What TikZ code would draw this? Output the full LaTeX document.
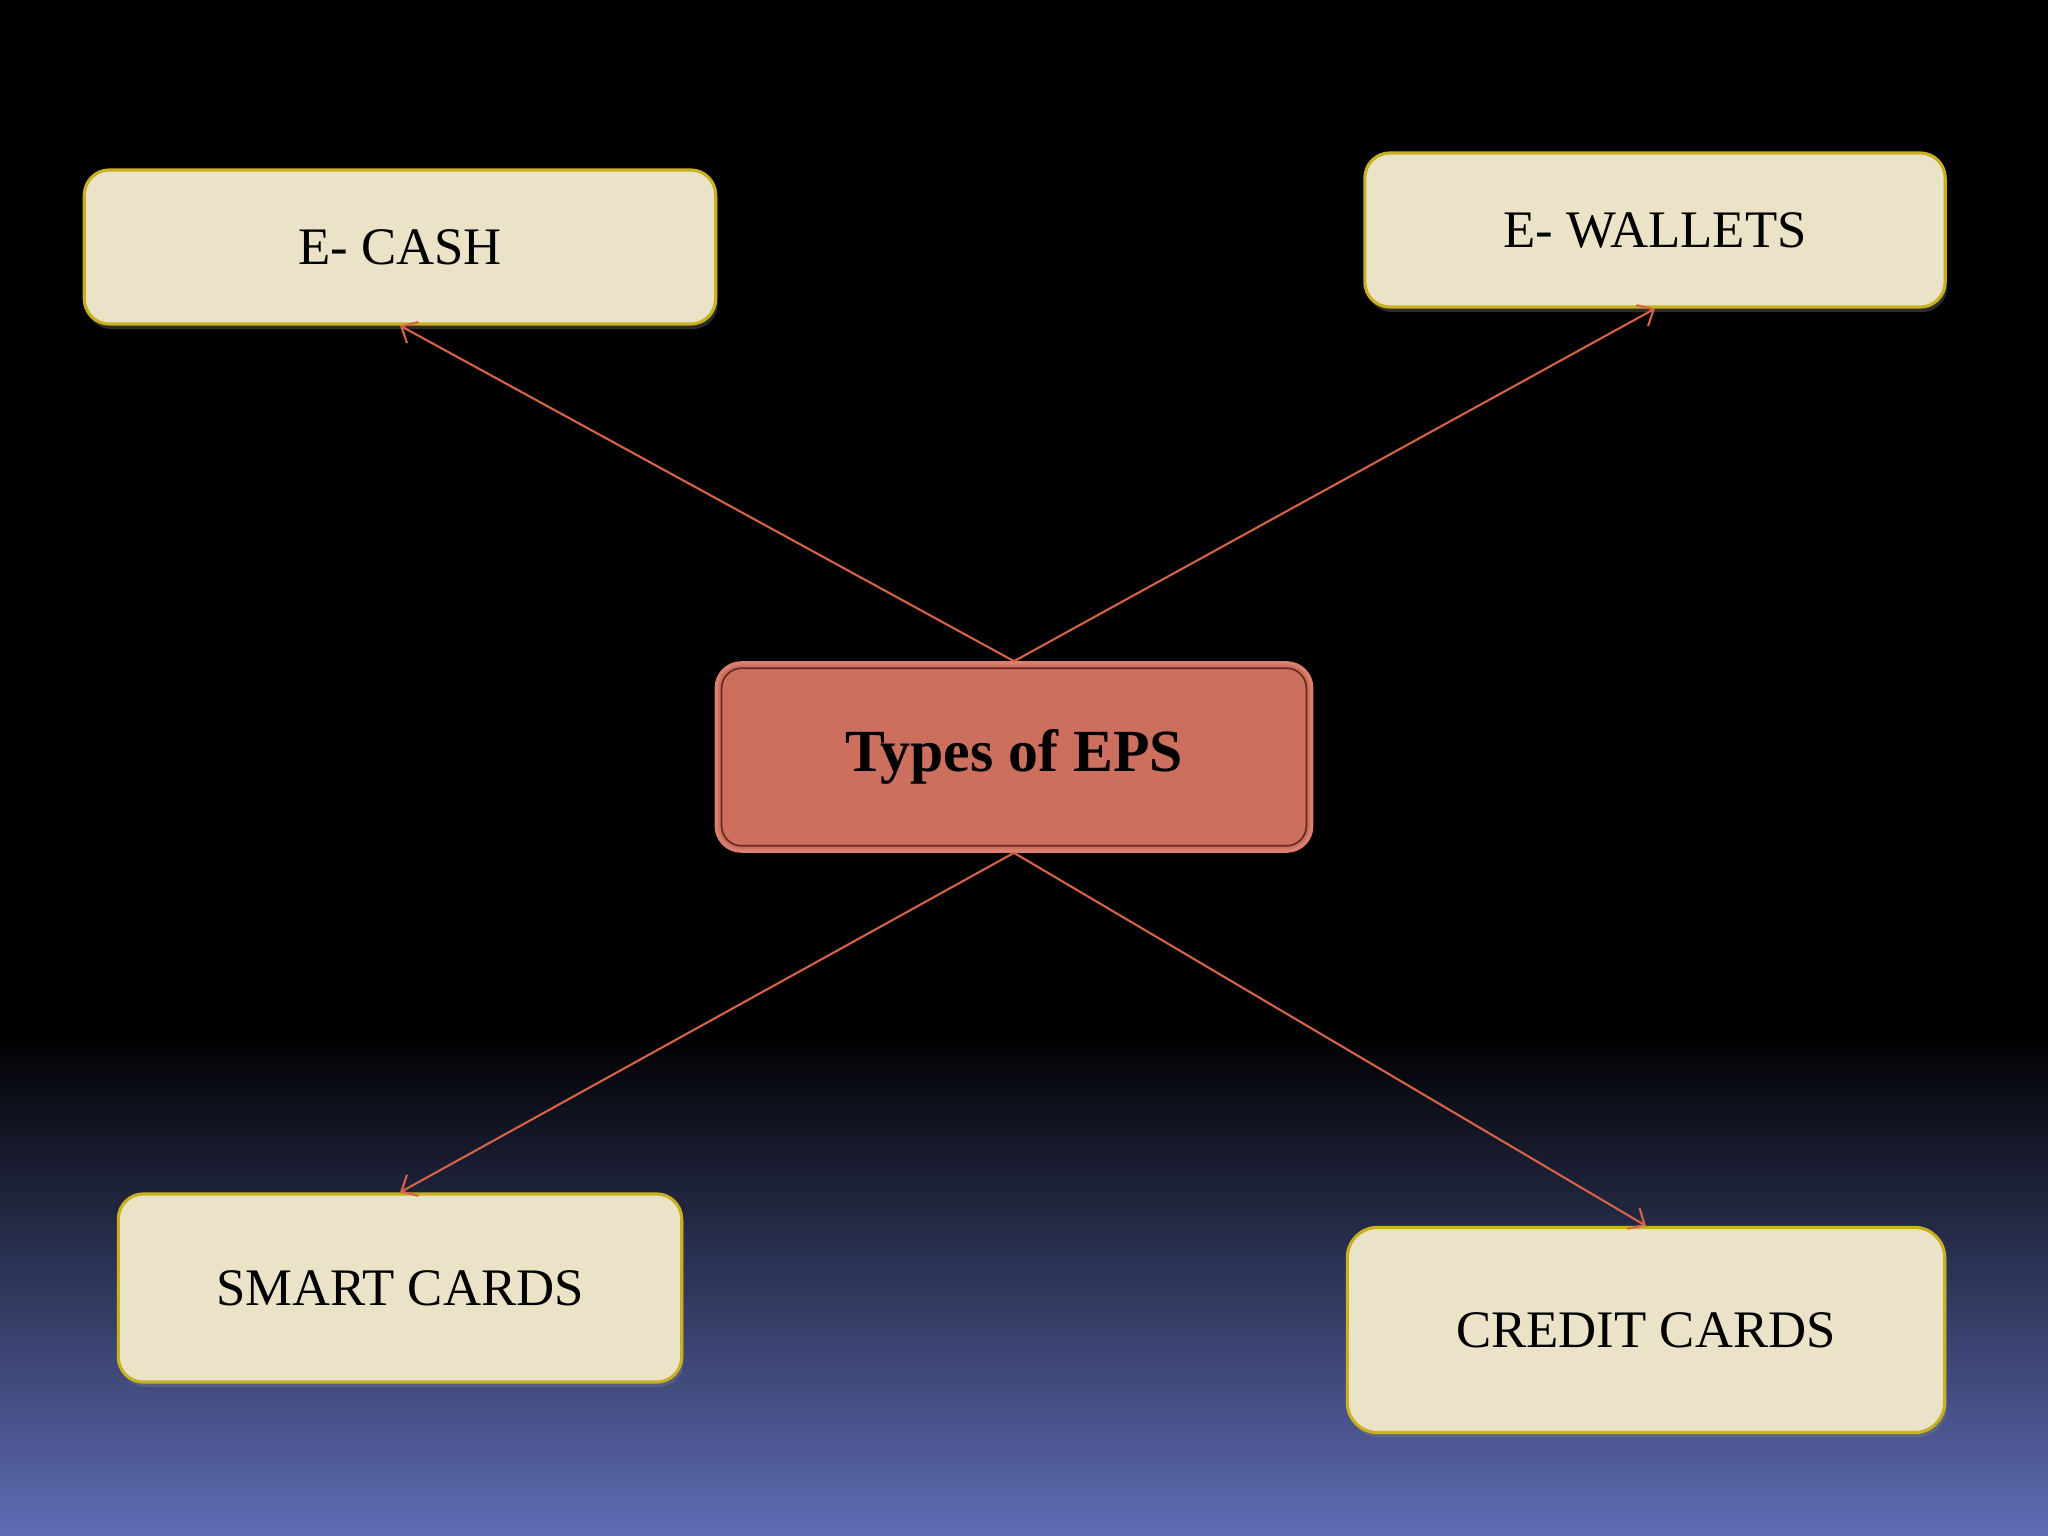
\documentclass[tikz,border=0pt]{standalone}
\usepackage{fontspec}
\setmainfont{Liberation Serif}
\usetikzlibrary{arrows.meta, shadows}

\definecolor{cream}{RGB}{234,227,199}
\definecolor{gold}{RGB}{201,176,32}
\definecolor{brick}{RGB}{205,111,95}
\definecolor{brickline}{RGB}{218,126,110}
\definecolor{brickdark}{RGB}{105,42,32}
\definecolor{wire}{RGB}{214,98,72}
\definecolor{dusk}{RGB}{94,108,180}

\begin{document}
\begin{tikzpicture}[x=0.01cm, y=-0.01cm,
        box/.style = {draw=gold, fill=cream, line width=0.9pt, rounded corners=0.25cm, inner sep=0pt,
            font=\fontsize{15}{18}\selectfont, drop shadow={shadow xshift=0.02cm, shadow yshift=-0.05cm, opacity=0.35}},
        core/.style = {draw=brickline, fill=brick, line width=1pt, rounded corners=0.25cm, inner sep=0pt,
            font=\fontsize{17}{20}\selectfont\bfseries},
        link/.style = {wire, line width=0.6pt, -{Straight Barb[length=0.13cm, width=0.24cm]}}]
            % slide background
            \fill[black] (0,0) rectangle (2048,1536);
            \shade[top color=black, bottom color=dusk] (0,1030) rectangle (2048,1536);

            \node[core, minimum width=5.95cm, minimum height=1.88cm] (eps) at (1014,757) {Types of EPS};
            \draw[brickdark, line width=0.5pt, rounded corners=0.2cm] ([xshift=0.07cm, yshift=-0.07cm]eps.north west) rectangle ([xshift=-0.07cm, yshift=0.07cm]eps.south east);

            \node[box, minimum width=6.31cm, minimum height=1.54cm] (cash) at (400,247) {E- CASH};
            \node[box, minimum width=5.80cm, minimum height=1.54cm] (wallets) at (1655,230) {E- WALLETS};
            \node[box, minimum width=5.63cm, minimum height=1.88cm] (smart) at (400,1288) {SMART CARDS};
            \node[box, minimum width=5.97cm, minimum height=2.05cm, rounded corners=0.3cm] (credit) at (1646,1330) {CREDIT CARDS};

            \path[link] (eps.north) edge (cash.south);
            \path[link] (eps.north) edge (wallets.south);
            \path[link] (eps.south) edge (smart.north);
            \path[link] (eps.south) edge (credit.north);
        \end{tikzpicture}
\end{document}
